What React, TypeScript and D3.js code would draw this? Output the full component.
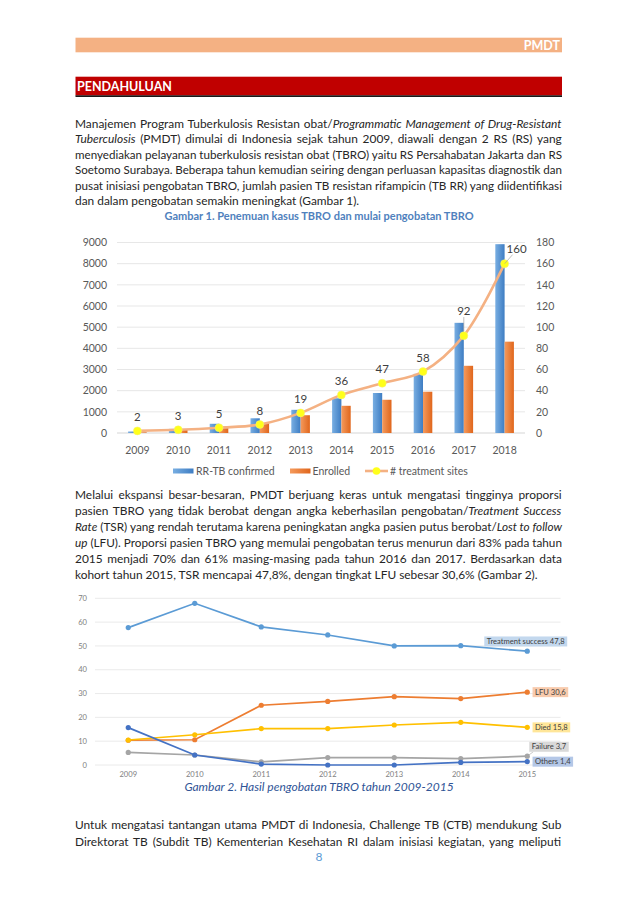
import React from 'react';
import * as d3 from 'd3';

// ---------- Data ----------
const years1 = ['2009', '2010', '2011', '2012', '2013', '2014', '2015', '2016', '2017', '2018'];
const confirmed = [70, 195, 435, 695, 1095, 1640, 1890, 2795, 5205, 8920];
const enrolled = [30, 145, 300, 465, 840, 1285, 1570, 1950, 3175, 4315];
const sites = [2, 3, 5, 8, 19, 36, 47, 58, 92, 160];
const leftTicks = [0, 1000, 2000, 3000, 4000, 5000, 6000, 7000, 8000, 9000];
const rightTicks = [0, 20, 40, 60, 80, 100, 120, 140, 160, 180];
const legend1 = ['RR-TB confirmed', 'Enrolled', '# treatment sites'];

const years2 = ['2009', '2010', '2011', '2012', '2013', '2014', '2015'];
const success = [57.7, 67.9, 58.0, 54.6, 50.0, 50.1, 47.8];
const lfu = [10.4, 10.6, 25.1, 26.7, 28.7, 27.9, 30.6];
const died = [10.5, 12.7, 15.3, 15.3, 16.8, 17.9, 15.8];
const failure = [5.3, 4.2, 1.3, 3.1, 3.1, 2.7, 3.7];
const others = [15.7, 4.2, 0.4, 0.0, 0.0, 1.1, 1.4];
const names2 = ['Treatment success', 'LFU', 'Died', 'Failure', 'Others'];
const ticks2 = [0, 10, 20, 30, 40, 50, 60, 70];

// ---------- Text ----------
type Seg = { t: string; i?: boolean };
const para1: Seg[][] = [
  [{ t: 'Manajemen Program Tuberkulosis Resistan obat/' }, { t: 'Programmatic Management of Drug-Resistant', i: true }],
  [{ t: 'Tuberculosis', i: true }, { t: ' (PMDT) dimulai di Indonesia sejak tahun 2009, diawali dengan 2 RS (RS) yang' }],
  [{ t: 'menyediakan pelayanan tuberkulosis resistan obat (TBRO) yaitu RS Persahabatan Jakarta dan RS' }],
  [{ t: 'Soetomo Surabaya. Beberapa tahun kemudian seiring dengan perluasan kapasitas diagnostik dan' }],
  [{ t: 'pusat inisiasi pengobatan TBRO, jumlah pasien TB resistan rifampicin (TB RR) yang diidentifikasi' }],
  [{ t: 'dan dalam pengobatan semakin meningkat (Gambar 1).' }],
];
const para2: Seg[][] = [
  [{ t: 'Melalui ekspansi besar-besaran, PMDT berjuang keras untuk mengatasi tingginya proporsi' }],
  [{ t: 'pasien TBRO yang tidak berobat dengan angka keberhasilan pengobatan/' }, { t: 'Treatment Success', i: true }],
  [{ t: 'Rate', i: true }, { t: ' (TSR) yang rendah terutama karena peningkatan angka pasien putus berobat/' }, { t: 'Lost to follow', i: true }],
  [{ t: 'up', i: true }, { t: ' (LFU). Proporsi pasien TBRO yang memulai pengobatan terus menurun dari 83% pada tahun' }],
  [{ t: '2015 menjadi 70% dan 61% masing-masing pada tahun 2016 dan 2017. Berdasarkan data' }],
  [{ t: 'kohort tahun 2015, TSR mencapai 47,8%, dengan tingkat LFU sebesar 30,6% (Gambar 2).' }],
];
const para3: Seg[][] = [
  [{ t: 'Untuk mengatasi tantangan utama PMDT di Indonesia, Challenge TB (CTB) mendukung Sub' }],
  [{ t: 'Direktorat TB (Subdit TB) Kementerian Kesehatan RI dalam inisiasi kegiatan, yang meliputi' }],
];

const FONT = 'Lato, "Open Sans", sans-serif';
const BODY = 11.9;
const LEFT = 75;
const RIGHT = 562;

let ctx: CanvasRenderingContext2D | null = null;
function measure(text: string, font: string) {
  if (!ctx) ctx = document.createElement('canvas').getContext('2d');
  if (!ctx) return text.length * 6;
  ctx.font = font;
  return ctx.measureText(text).width;
}

function Line({ segs, y, justify }: { segs: Seg[]; y: number; justify: boolean }) {
  const natural = segs.reduce((s, g) => s + measure(g.t, `${g.i ? 'italic ' : ''}${BODY}px Lato`), 0);
  const spaces = segs.reduce((s, g) => s + (g.t.match(/ /g) || []).length, 0);
  const full = RIGHT - LEFT;
  let ws = justify && spaces > 0 ? (full - natural) / spaces : 0;
  const squeeze = justify && natural > full;
  if (squeeze) ws = 0;
  return (
    <text x={LEFT} y={y} fontSize={BODY} fill="#262626"
      textLength={squeeze ? full : undefined} lengthAdjust={squeeze ? 'spacingAndGlyphs' : undefined}
      style={{ whiteSpace: 'pre', wordSpacing: `${ws}px` }}>
      {segs.map((g, k) => (
        <tspan key={k} fontStyle={g.i ? 'italic' : undefined}>{g.t}</tspan>
      ))}
    </text>
  );
}

function Para({ lines, y0, lh }: { lines: Seg[][]; y0: number; lh: number }) {
  return (
    <g>
      {lines.map((segs, i) => (
        <Line key={i} segs={segs} y={y0 + i * lh} justify={i < lines.length - 1 || lines.length === 2} />
      ))}
    </g>
  );
}

function Chart1() {
  const x = d3.scaleBand<string>().domain(years1).range([117, 525]).padding(0);
  const yL = d3.scaleLinear().domain([0, 9000]).range([433, 242.5]);
  const yR = d3.scaleLinear().domain([0, 180]).range([433, 242.5]);
  const bw = 9.3;
  const cx = (d: string) => (x(d) as number) + x.bandwidth() / 2;
  const pts: [number, number][] = years1.map((d, i) => [cx(d), yR(sites[i])]);
  const line = d3.line().curve(d3.curveCatmullRom.alpha(0.5))(pts) || '';
  const labelOffset: Record<number, [number, number]> = { 8: [0, -24.6], 9: [12, -15] };
  return (
    <g fontFamily={FONT}>
      <defs>
        <linearGradient id="gb" x1="0" x2="1" y1="0" y2="0">
          <stop offset="0" stopColor="#78AEE2" />
          <stop offset="1" stopColor="#3E7DC3" />
        </linearGradient>
        <linearGradient id="go" x1="0" x2="1" y1="0" y2="0">
          <stop offset="0" stopColor="#F59A5C" />
          <stop offset="1" stopColor="#E0661C" />
        </linearGradient>
      </defs>
      {leftTicks.map((t) => (
        <line key={t} x1={117} x2={525} y1={yL(t)} y2={yL(t)} stroke={t === 0 ? '#D0D0D0' : '#E4E4E4'} strokeWidth={0.9} />
      ))}
      {leftTicks.map((t) => (
        <text key={t} x={107} y={yL(t) + 3.8} textAnchor="end" fontSize={10.5} fill="#595959">{t}</text>
      ))}
      {rightTicks.map((t) => (
        <text key={t} x={536} y={yR(t) + 3.8} textAnchor="start" fontSize={10.5} fill="#595959">{t}</text>
      ))}
      {years1.map((d) => (
        <text key={d} x={cx(d)} y={453.5} textAnchor="middle" fontSize={10.5} fill="#595959">{d}</text>
      ))}
      {years1.map((d, i) => (
        <g key={d}>
          <rect x={cx(d) - bw} y={yL(confirmed[i])} width={bw} height={433 - yL(confirmed[i])} fill="url(#gb)" />
          <rect x={cx(d)} y={yL(enrolled[i])} width={bw} height={433 - yL(enrolled[i])} fill="url(#go)" />
        </g>
      ))}
      <path d={line} fill="none" stroke="#F4B183" strokeWidth={2.6} />
      {pts.map((p, i) => (
        <circle key={i} cx={p[0]} cy={p[1]} r={4} fill="#FFFF1A" stroke="#F5F07A" strokeWidth={0.5} />
      ))}
      {pts.map((p, i) => {
        const off = labelOffset[i] || [0, -14];
        const lx = p[0] + off[0];
        const ly = p[1] + off[1];
        return (
          <g key={i}>
            {i === 8 && <line x1={p[0]} x2={p[0]} y1={ly + 6} y2={p[1] - 4.5} stroke="#A6A6A6" strokeWidth={0.7} />}
            {i === 9 && <line x1={p[0]} y1={p[1]} x2={lx - 4} y2={ly + 6} stroke="#A6A6A6" strokeWidth={0.7} />}
            <text x={lx} y={ly + 4.2} textAnchor="middle" fontSize={11.5} fill="#404040">{sites[i]}</text>
          </g>
        );
      })}
      {/* legend */}
      <rect x={173} y={468.5} width={20.5} height={5} fill="url(#gb)" />
      <text x={196} y={474.8} fontSize={10.5} fill="#595959">{legend1[0]}</text>
      <rect x={290} y={468.5} width={20.5} height={5} fill="url(#go)" />
      <text x={312.5} y={474.8} fontSize={10.5} fill="#595959">{legend1[1]}</text>
      <line x1={365} x2={388} y1={471} y2={471} stroke="#F4B183" strokeWidth={2.6} />
      <circle cx={376.5} cy={471} r={3.8} fill="#FFFF1A" />
      <text x={390} y={474.8} fontSize={10.5} fill="#595959">{legend1[2]}</text>
    </g>
  );
}

function Chart2() {
  const x = d3.scaleBand<string>().domain(years2).range([95, 560.5]).padding(0);
  const y = d3.scaleLinear().domain([0, 70]).range([765, 598.3]);
  const cx = (d: string) => (x(d) as number) + x.bandwidth() / 2;
  const series = [success, lfu, died, failure, others];
  const colors = ['#5B9BD5', '#ED7D31', '#FFC000', '#A5A5A5', '#4472C4'];
  const boxFill = ['#C3D8EE', '#F8CBAD', '#FFE699', '#D9D9D9', '#B4C7E7'];
  const lineGen = d3.line<number>().x((_, i) => cx(years2[i])).y((v) => y(v));
  const fs = 7.6;
  const last = years2.length - 1;
  return (
    <g fontFamily={FONT}>
      {ticks2.map((t) => (
        <line key={t} x1={95} x2={560.5} y1={y(t)} y2={y(t)} stroke="#E8E8E8" strokeWidth={0.9} />
      ))}
      {ticks2.map((t) => (
        <text key={t} x={87} y={y(t) + 2.7} textAnchor="end" fontSize={fs} fill="#808080">{t}</text>
      ))}
      {years2.map((d) => (
        <text key={d} x={cx(d)} y={776.7} textAnchor="middle" fontSize={fs} fill="#808080">{d}</text>
      ))}
      {series.map((s, k) => (
        <g key={k}>
          <path d={lineGen(s) || ''} fill="none" stroke={colors[k]} strokeWidth={1.7} />
          {s.map((v, i) => (
            <circle key={i} cx={cx(years2[i])} cy={y(v)} r={2.6} fill={colors[k]} />
          ))}
        </g>
      ))}
      {series.map((s, k) => {
        const label = `${names2[k]} ${String(s[last]).replace('.', ',')}`;
        const w = measure(label, `${fs}px Lato`) + 5;
        const h = 10;
        const px = cx(years2[last]);
        const py = y(s[last]);
        let bx = px + 5.3;
        let by = py - h / 2;
        if (k === 0) { bx = px - w / 2 - 1.5; by = py - 14.7; }
        if (k === 3) { bx = px + 2; by = py - 14.4; }
        return (
          <g key={k}>
            {k === 3 && <line x1={px} y1={py} x2={bx + 4} y2={by + h} stroke="#A6A6A6" strokeWidth={0.6} />}
            <rect x={bx} y={by} width={w} height={h} fill={boxFill[k]} />
            <text x={bx + w / 2} y={by + h / 2 + 2.7} textAnchor="middle" fontSize={fs} fill="#404040">{label}</text>
          </g>
        );
      })}
    </g>
  );
}

export default function App() {
  return (
    <svg width={638} height={902} viewBox="0 0 638 902"
      style={{ position: 'absolute', left: 0, top: 0, display: 'block', background: '#fff' }}
      fontFamily={FONT}>
      <rect x={0} y={0} width={638} height={902} fill="#fff" />
      {/* header */}
      <rect x={75.5} y={37.7} width={486.5} height={14.6} fill="#F4B183" />
      <text x={560} y={49.7} textAnchor="end" fontSize={12.5} fontWeight={700} fill="#fff">PMDT</text>
      <rect x={75.5} y={76.7} width={486.5} height={18.8} fill="#C00000" />
      <rect x={75.5} y={95.3} width={486.5} height={1.7} fill="#1A1A1A" />
      <text x={77} y={90.5} fontSize={12.5} fontWeight={700} fill="#fff">PENDAHULUAN</text>

      <Para lines={para1} y0={128} lh={15.4} />
      <text x={319} y={220} textAnchor="middle" fontSize={11} fontWeight={700} fill="#4F81BD">
        Gambar 1. Penemuan kasus TBRO dan mulai pengobatan TBRO
      </text>
      <Chart1 />
      <Para lines={para2} y0={498.5} lh={16} />
      <Chart2 />
      <text x={319} y={791} textAnchor="middle" fontSize={12} fontStyle="italic" fill="#2F5496">
        Gambar 2. Hasil pengobatan TBRO tahun 2009-2015
      </text>
      <Para lines={para3} y0={829} lh={16.5} />
      <text x={319} y={861} textAnchor="middle" fontSize={12} fill="#5B9BD5">8</text>
    </svg>
  );
}
